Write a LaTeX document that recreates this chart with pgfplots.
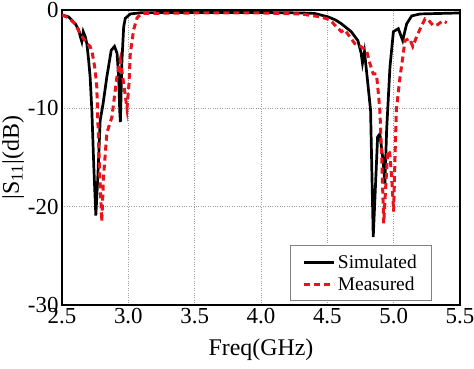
\documentclass[border=0pt]{standalone}
\usepackage{fontspec}
\setmainfont{Liberation Serif}
\usepackage{pgfplots}
\pgfplotsset{compat=1.18}
\definecolor{measred}{RGB}{232,20,28}
\pgfplotstableread{
f db
2.50 -0.5
2.55 -0.7
2.60 -1.4
2.625 -2.0
2.64 -2.8
2.649 -3.2
2.66 -2.2
2.675 -2.7
2.687 -3.4
2.70 -5.0
2.712 -6.8
2.725 -10.2
2.74 -16
2.755 -20.9
2.77 -17
2.788 -11.2
2.81 -9.5
2.838 -6.8
2.871 -4.1
2.896 -3.7
2.915 -4.4
2.927 -6.8
2.935 -10.2
2.94 -11.4
2.952 -5.1
2.965 -1.7
2.977 -0.85
3.015 -0.4
3.1 -0.27
3.5 -0.25
4.0 -0.25
4.3 -0.3
4.404 -0.35
4.505 -0.7
4.56 -1.0
4.606 -1.4
4.68 -2.2
4.73 -3.1
4.755 -4.4
4.765 -5.4
4.78 -4.25
4.80 -6.8
4.826 -10.2
4.846 -23.1
4.879 -12.9
4.896 -12.6
4.92 -15.3
4.934 -17.7
4.947 -12.2
4.972 -5.8
4.998 -2.2
5.035 -1.9
5.068 -3.1
5.098 -1.4
5.136 -0.6
5.2 -0.4
5.5 -0.3
}\sim
\pgfplotstableread{
f db
2.50 -0.5
2.55 -0.8
2.598 -1.4
2.636 -2.4
2.687 -3.4
2.712 -3.7
2.73 -4.5
2.75 -6.1
2.762 -7.8
2.77 -11.2
2.785 -17
2.80 -21.5
2.813 -17
2.838 -12.5
2.876 -10.9
2.914 -6.8
2.939 -5.1
2.965 -7.5
2.99 -10.0
3.005 -7.5
3.015 -4.4
3.04 -2.0
3.066 -0.8
3.1 -0.35
3.5 -0.3
4.0 -0.3
4.3 -0.4
4.45 -0.7
4.52 -1.0
4.568 -1.7
4.606 -2.2
4.63 -2.0
4.706 -3.4
4.75 -3.7
4.795 -4.1
4.82 -5.4
4.846 -6.5
4.87 -6.5
4.88 -7.8
4.896 -10.2
4.91 -15
4.925 -21.7
4.94 -18
4.955 -14.3
4.97 -14.5
4.985 -17
5.00 -20.5
5.01 -15
5.02 -10.2
5.048 -6.8
5.073 -4.4
5.085 -3.1
5.12 -2.9
5.144 -3.7
5.174 -2.7
5.2 -1.9
5.237 -0.9
5.26 -1.0
5.30 -1.6
5.33 -1.5
5.37 -1.1
5.40 -1.3
}\meas
\begin{document}
\begin{tikzpicture}
\begin{axis}[name=ax, scale only axis, width=398bp, height=295bp,
  xmin=2.5, xmax=5.5, ymin=-30, ymax=0,
  xtick={2.5,3.0,3.5,4.0,4.5,5.0,5.5},
  xticklabels={2.5,3.0,3.5,4.0,4.5,5.0,5.5},
  ytick={-30,-20,-10,0}, yticklabels={-30,-20,-10,0},
  grid=major, major grid style={gray!75, dotted, line width=0.8bp},
  major tick length=0pt,
  axis line style={line width=1.3bp},
  tick label style={font=\fontsize{23}{26}\selectfont},
  label style={font=\fontsize{24}{27}\selectfont},
  xlabel={Freq(GHz)}, ylabel={|S\textsubscript{11}|(dB)},
  xlabel style={yshift=-8bp},
  ylabel style={yshift=-3bp},
  legend cell align=left,
  legend style={at={(0.93,0.0136)}, anchor=south east, draw=gray, line width=0.8bp,
    font=\fontsize{19.5}{22}\selectfont, inner xsep=13bp, inner ysep=7bp, row sep=3bp},
  legend image code/.code={\draw[#1] (0bp,0bp) -- (30bp,0bp);},
]
\addplot[black, line width=2.7bp] table[x=f,y=db] {\sim};
\addlegendentry{Simulated}
\addplot[measred, line width=3bp, dash pattern=on 6bp off 4bp] table[x=f,y=db] {\meas};
\addlegendentry{Measured}
\end{axis}
\pgfresetboundingbox
\useasboundingbox ([shift={(-62bp,-64bp)}]ax.south west) rectangle ([shift={(14bp,10bp)}]ax.north east);
\end{tikzpicture}
\end{document}
